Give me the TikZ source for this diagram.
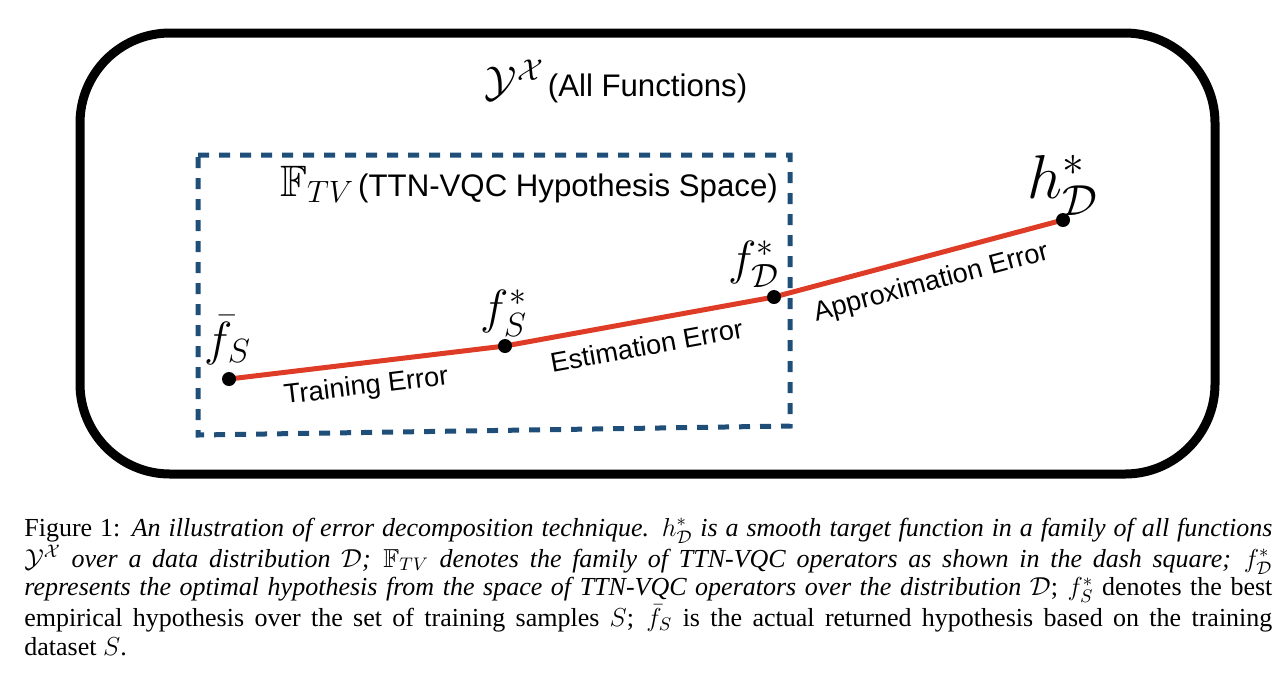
\RequirePackage{fix-cm}
\documentclass[tikz,border=0pt]{standalone}
\usepackage{amsmath,amssymb}
\usepackage{fontspec}
\setmainfont{Liberation Serif}
\setsansfont{Liberation Sans}
\definecolor{errred}{RGB}{222,60,38}
\definecolor{dashblue}{RGB}{31,78,121}
\begin{document}
\begin{tikzpicture}[x=0.5pt,y=-0.5pt,
  outerbox/.style={draw=black, line width=4.5pt, rounded corners=45pt},
  spacebox/.style={draw=dashblue, line width=2.5pt, dash pattern=on 5.5pt off 5pt},
  errline/.style={draw=errred, line width=2.5pt},
  dot/.style={circle, fill=black, inner sep=0pt, minimum size=7pt},
  ptlabel/.style={inner sep=0pt, font=\fontsize{24}{28}\selectfont},
  biglabel/.style={inner sep=0pt, font=\fontsize{31}{36}\selectfont},
  errlabel/.style={font=\sffamily\fontsize{13.6}{16}\selectfont, sloped, inner sep=0pt},
  titlelabel/.style={inner sep=0pt, anchor=base, font=\sffamily\fontsize{15.6}{19}\selectfont}]
\useasboundingbox (0,0) rectangle (1288,682);
% outer set
\draw[outerbox] (80,33) rectangle (1215,474);
% hypothesis space
\draw[spacebox] (198,155) -- (790,155) -- (790,426) -- (198,435) -- cycle;
% titles
\node[titlelabel] (alltitle) at (616,96) {{\fontsize{21.5}{26}\selectfont$\mathcal{Y}^{\mathcal{X}}$}\hspace{2pt}(All Functions)};
\node[titlelabel] (ftitle) at (529,196) {{\fontsize{22}{26}\selectfont$\mathbb{F}_{TV}$}\hspace{2pt}(TTN-VQC Hypothesis Space)};
% points
\coordinate (fbar) at (229,379);
\coordinate (fs) at (505,346);
\coordinate (fd) at (774,297);
\coordinate (hd) at (1063,220);
\draw[errline] (fbar) -- node[errlabel, pos=0.487, below=4.6pt] {Training Error}
  (fs) -- node[errlabel, pos=0.51, below=6.2pt] {Estimation Error}
  (fd) -- node[errlabel, pos=0.52, below=6pt] {Approximation Error} (hd);
\node[dot] (fbardot) at (fbar) {};
\node[dot] (fsdot) at (fs) {};
\node[dot] (fddot) at (fd) {};
\node[dot] (hddot) at (hd) {};
\node[ptlabel] (fbarlab) at (228,340) {$\bar{f}_S$};
\node[ptlabel] (fslab) at (504,313) {$f^*_S$};
\node[ptlabel] (fdlab) at (754,264) {$f^*_{\mathcal{D}}$};
\node[biglabel] (hdlab) at (1063,185) {$h^*_{\mathcal{D}}$};
% caption
\node[anchor=base west, inner sep=0pt] (caption) at (24,536) {\parbox[t]{624pt}{\fontsize{13}{14.35}\selectfont
\hyphenpenalty=10000 \exhyphenpenalty=10000 \tolerance=9999 \emergencystretch=3em
Figure 1: \textit{An illustration of error decomposition technique. $h^*_{\mathcal{D}}$ is a smooth target function in a family of all functions\linebreak
$\mathcal{Y}^{\mathcal{X}}$ over a data distribution $\mathcal{D}$; $\mathbb{F}_{TV}$ denotes the family of TTN-VQC operators as shown in the dash square; $f^*_{\mathcal{D}}$\linebreak
represents the optimal hypothesis from the space of TTN-VQC operators over the distribution $\mathcal{D}$}; $f^*_S$ denotes the best\linebreak
empirical hypothesis over the set of training samples $S$; $\bar{f}_S$ is the actual returned hypothesis based on the training\linebreak
dataset $S$.}};
\end{tikzpicture}
\end{document}
